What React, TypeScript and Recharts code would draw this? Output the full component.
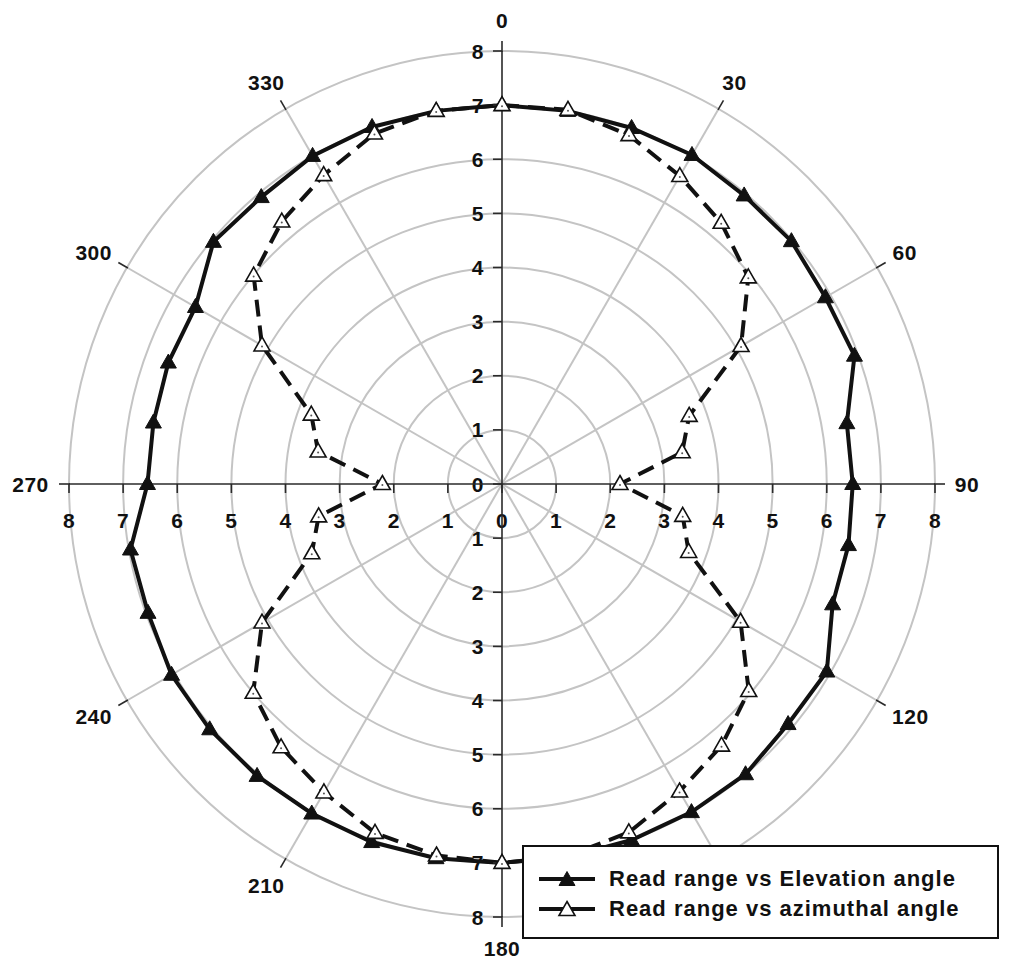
import {
  RadarChart,
  Radar,
  PolarGrid,
  PolarAngleAxis,
  PolarRadiusAxis,
  Legend,
} from "recharts";

// angle in degrees, clockwise from the top
const ANGLES = [
  0, 10, 20, 30, 40, 50, 60, 70, 80, 90, 100, 110, 120, 130, 140, 150, 160, 170,
  180, 190, 200, 210, 220, 230, 240, 250, 260, 270, 280, 290, 300, 310, 320, 330, 340, 350,
];

// read range (m)
const ELEVATION = [
  7.0, 7.0, 7.0, 7.02, 6.96, 6.98, 6.9, 6.93, 6.47, 6.48, 6.5, 6.5, 6.93, 6.9, 7.0, 7.0, 7.0, 7.0,
  7.0, 7.02, 7.04, 7.03, 7.04, 7.05, 7.05, 6.96, 6.97, 6.55, 6.54, 6.56, 6.54, 6.96, 6.92, 7.0, 7.02, 7.0,
];

const AZIMUTHAL = [
  7.0, 7.02, 6.86, 6.57, 6.3, 5.94, 5.1, 3.68, 3.38, 2.18, 3.39, 3.67, 5.09, 5.95, 6.31, 6.56, 6.85, 6.98,
  7.0, 6.97, 6.86, 6.58, 6.35, 6.0, 5.12, 3.74, 3.44, 2.21, 3.45, 3.75, 5.12, 5.99, 6.33, 6.59, 6.89, 7.0,
];

// light spokes (the 0/90/180/270 ones are the dark axes)
const SPOKES = [30, 60, 120, 150, 210, 240, 300, 330];
// 150 sits under the legend box in the original
const HIDDEN_ANGLE_LABELS = [150];
const RANGE_MAX = 8;

const SERIES_ELEV = "Read range vs Elevation angle";
const SERIES_AZIM = "Read range vs azimuthal angle";

const data = ANGLES.map((a, i) => ({
  angle: a,
  elevation: ELEVATION[i],
  azimuthal: AZIMUTHAL[i],
}));

const W = 994;
const H = 957;
const CX = 494;
const CY = 476;
const R = 433;
const FONT = '"Liberation Sans", Arial, Helvetica, sans-serif';
const INK = "#111";
const AXIS = "#2a2a2a";
const GRID = "#c4c4c4";

const tri = (x: number, y: number) =>
  `M${x},${y - 8.5} L${x + 8},${y + 5.5} L${x - 8},${y + 5.5} Z`;

const FilledDot = (p: any) => {
  if (p.cx == null || p.cy == null) return <g key={p.index} />;
  return <path key={p.index} d={tri(p.cx, p.cy)} fill={INK} stroke={INK} strokeWidth={1} />;
};

const OpenDot = (p: any) => {
  if (p.cx == null || p.cy == null) return <g key={p.index} />;
  return (
    <g key={p.index}>
      <path d={tri(p.cx, p.cy)} fill="#fff" stroke={INK} strokeWidth={1.6} />
      <circle cx={p.cx} cy={p.cy + 1} r={1} fill="#555" />
    </g>
  );
};

const label = (x: number, y: number, text: any, anchor: "start" | "middle" | "end") => (
  <text
    x={x}
    y={y}
    textAnchor={anchor}
    dominantBaseline="central"
    fontFamily={FONT}
    fontWeight={700}
    fontSize={21}
    letterSpacing={0.5}
    fill={INK}
  >
    {text}
  </text>
);

// labels round the outer ring, only every 30 degrees
const AngleTick = (p: any) => {
  const deg = Number(p.payload?.value);
  if (deg % 30 !== 0) return <g />;
  const dx = p.x - CX;
  const dy = p.y - CY;
  const len = Math.hypot(dx, dy) || 1;
  const ux = dx / len;
  const uy = dy / len;
  const txt = String(deg);
  const hw = txt.length * 6.5;
  return (
    <g>
      <line
        x1={CX + ux * (R - 1)}
        y1={CY + uy * (R - 1)}
        x2={CX + ux * (R + 10)}
        y2={CY + uy * (R + 10)}
        stroke={AXIS}
        strokeWidth={1.6}
      />
      {!HIDDEN_ANGLE_LABELS.includes(deg) &&
        label(CX + ux * 452 + ux * hw, CY + uy * 464, txt, "middle")}
    </g>
  );
};

// one radius scale, shown on the four half-axes (up, down, right, left)
const RangeTick = (p: any) => {
  const v = p.payload?.value;
  const d = CY - p.y;
  const ink = { stroke: AXIS, strokeWidth: 1.6 };
  return (
    <g>
      {v === RANGE_MAX && (
        <g>
          <line x1={CX} y1={CY - d} x2={CX} y2={CY + d} {...ink} />
          <line x1={CX - d} y1={CY} x2={CX + d} y2={CY} {...ink} />
        </g>
      )}
      <line x1={CX - 9} y1={CY - d} x2={CX} y2={CY - d} {...ink} />
      {label(CX - 18, CY - d, v, "end")}
      <line x1={CX + d} y1={CY} x2={CX + d} y2={CY + 9} {...ink} />
      {label(CX + d, CY + 36, v, "middle")}
      {v !== 0 && (
        <g>
          <line x1={CX - 9} y1={CY + d} x2={CX} y2={CY + d} {...ink} />
          {label(CX - 18, CY + d, v, "end")}
          <line x1={CX - d} y1={CY} x2={CX - d} y2={CY + 9} {...ink} />
          {label(CX - d, CY + 36, v, "middle")}
        </g>
      )}
    </g>
  );
};

const LegendBox = (props: any) => {
  const items = props.payload ?? [];
  return (
    <div
      style={{
        width: 477,
        height: 94,
        boxSizing: "border-box",
        border: `2px solid ${INK}`,
        background: "#fff",
        padding: "17px 0 0 14px",
        fontFamily: FONT,
        fontWeight: 700,
        fontSize: 22,
        letterSpacing: 1,
        color: INK,
      }}
    >
      {items.map((entry: any) => {
        const open = entry.value === SERIES_AZIM;
        return (
          <div key={entry.value} style={{ display: "flex", alignItems: "center", height: 30 }}>
            <svg width={58} height={20}>
              <line x1={1} y1={10} x2={57} y2={10} stroke={INK} strokeWidth={4} />
              <path
                d={tri(29, 11)}
                fill={open ? "#fff" : INK}
                stroke={INK}
                strokeWidth={open ? 1.6 : 1}
              />
            </svg>
            <span style={{ marginLeft: 13, whiteSpace: "nowrap" }}>{entry.value}</span>
          </div>
        );
      })}
    </div>
  );
};

export default function App() {
  return (
    <RadarChart
      width={W}
      height={H}
      data={data}
      cx={CX}
      cy={CY}
      outerRadius={R}
      startAngle={90}
      endAngle={-270}
      margin={{ top: 0, right: 0, bottom: 0, left: 0 }}
    >
      <PolarGrid
        gridType="circle"
        polarAngles={SPOKES.map((a) => 90 - a)}
        stroke={GRID}
        strokeWidth={2}
      />
      <PolarAngleAxis
        dataKey="angle"
        axisLine={false}
        tickLine={false}
        tickSize={10}
        tick={AngleTick}
      />
      <PolarRadiusAxis
        angle={90}
        domain={[0, RANGE_MAX]}
        tickCount={9}
        axisLine={false}
        tick={RangeTick}
      />
      <Radar
        name={SERIES_ELEV}
        dataKey="elevation"
        stroke={INK}
        strokeWidth={4}
        fill="none"
        fillOpacity={0}
        dot={FilledDot}
        isAnimationActive={false}
      />
      <Radar
        name={SERIES_AZIM}
        dataKey="azimuthal"
        stroke={INK}
        strokeWidth={4}
        strokeDasharray="17 9"
        fill="none"
        fillOpacity={0}
        dot={OpenDot}
        isAnimationActive={false}
      />
      <Legend
        layout="horizontal"
        verticalAlign="middle"
        align="center"
        content={LegendBox}
        wrapperStyle={{ left: 514, top: 837, width: 477, height: 94 }}
      />
    </RadarChart>
  );
}
